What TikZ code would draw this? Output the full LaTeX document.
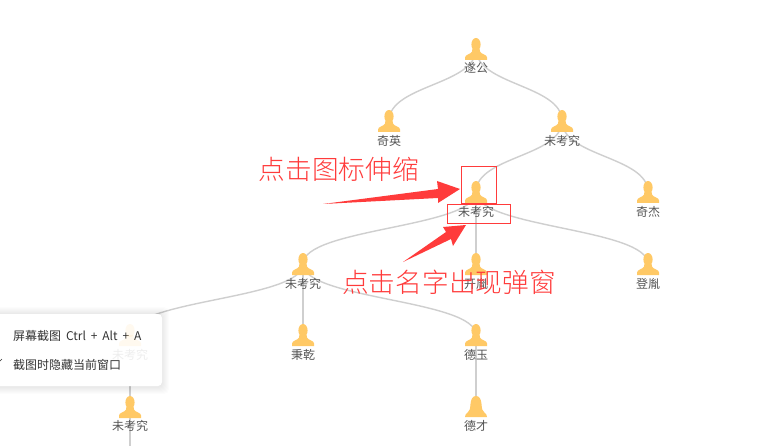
\documentclass[tikz,border=0pt]{standalone}
\usepackage{fontspec}
\usepackage{xcolor}
\usetikzlibrary{calc}
\setmainfont{Noto Sans CJK SC}
\newfontfamily\markfont{Noto Sans CJK SC Light}
\definecolor{iconGold}{HTML}{FFC966}
\definecolor{linkGrey}{HTML}{CFCFCF}
\definecolor{labelGrey}{HTML}{555555}
\definecolor{markRed}{HTML}{FF3B3B}
\definecolor{menuText}{HTML}{333333}
\tikzset{
  linkLine/.style={draw=linkGrey, line width=1.4pt},
  nameLabel/.style={text=labelGrey, font=\fontsize{12}{14}\selectfont, inner sep=0pt, yshift=-0.7pt},
  markBox/.style={draw=markRed, line width=0.8pt},
  markArrow/.style={fill=markRed},
  markText/.style={text=markRed, font=\markfont\fontsize{26.7}{30}\selectfont, inner sep=0pt, anchor=west},
  menuItem/.style={text=menuText, font=\fontsize{12}{14}\selectfont, inner sep=0pt, anchor=west},
  personIcon/.pic={
    \fill (0,-4.5) ellipse (4.6 and 6.5);
    \fill (-11,11) -- (-11,8.5) .. controls (-11,5.5) and (-5.5,5.5) .. (-4,2.5) -- (-3.6,0)
      -- (3.6,0) -- (4,2.5) .. controls (5.5,5.5) and (11,5.5) .. (11,8.5) -- (11,11) -- cycle;
  },
  womanIcon/.pic={
    \fill (0,-11) .. controls (3.5,-11) and (5,-8) .. (5.5,-3)
      .. controls (6,2) and (6,3.5) .. (8,5) .. controls (10,6.5) and (11,8) .. (11,10)
      -- (-11,10) .. controls (-11,8) and (-10,6.5) .. (-8,5)
      .. controls (-6,3.5) and (-6,2) .. (-5.5,-3) .. controls (-5,-8) and (-3.5,-11) .. (0,-11) -- cycle;
  }
}
\newcommand{\treeLink}[2]{
  \coordinate (mid) at ($(#1)!0.5!(#2)$);
  \draw[linkLine] (#1) .. controls (#1 |- mid) and (#2 |- mid) .. (#2);
}

\begin{document}
\begin{tikzpicture}[x=1pt,y=-1pt]
  \useasboundingbox (0,0) rectangle (759,446);
  \fill[white] (0,0) rectangle (759,446);

  \coordinate (root) at (476,49);
  \coordinate (qiying) at (389,121);
  \coordinate (sonA) at (562,121);
  \coordinate (sonB) at (476,192);
  \coordinate (qijie) at (648,192);
  \coordinate (sonC) at (303,264);
  \coordinate (kaiyin) at (476,264);
  \coordinate (dengyin) at (648,264);
  \coordinate (sonD) at (130,335);
  \coordinate (bingqian) at (303,335);
  \coordinate (deyu) at (476,335);
  \coordinate (sonE) at (130,407);
  \coordinate (decai) at (476,407);
  \coordinate (tailEnd) at (130,446);

  % links first, icons sit on top
  \treeLink{root}{qiying}
  \treeLink{root}{sonA}
  \treeLink{sonA}{sonB}
  \treeLink{sonA}{qijie}
  \treeLink{sonB}{sonC}
  \treeLink{sonB}{kaiyin}
  \treeLink{sonB}{dengyin}
  \treeLink{sonC}{sonD}
  \treeLink{sonC}{bingqian}
  \treeLink{sonC}{deyu}
  \treeLink{sonD}{sonE}
  \treeLink{deyu}{decai}
  \draw[linkLine] (sonE) -- (tailEnd);

  \path[fill=iconGold]
    (root) pic {personIcon}
    (qiying) pic {personIcon}
    (sonA) pic {personIcon}
    (sonB) pic {personIcon}
    (qijie) pic {personIcon}
    (sonC) pic {personIcon}
    (kaiyin) pic {personIcon}
    (dengyin) pic {personIcon}
    (bingqian) pic {personIcon}
    (deyu) pic {personIcon}
    (sonE) pic {personIcon}
    (decai) pic {womanIcon};

  \node[nameLabel] (rootName) at (476,67) {遂公};
  \node[nameLabel] (qiyingName) at (389,140) {奇英};
  \node[nameLabel] (sonAName) at (562,140) {未考究};
  \node[nameLabel] (sonBName) at (476,211) {未考究};
  \node[nameLabel] (qijieName) at (648,211) {奇杰};
  \node[nameLabel] (sonCName) at (303,283) {未考究};
  \node[nameLabel] (kaiyinName) at (476,283) {开胤};
  \node[nameLabel] (dengyinName) at (648,283) {登胤};
  \node[nameLabel] (bingqianName) at (303,354) {秉乾};
  \node[nameLabel] (deyuName) at (476,354) {德玉};
  \node[nameLabel] (sonEName) at (130,425) {未考究};
  \node[nameLabel] (decaiName) at (476,425) {德才};

  % annotations
  \draw[markBox] (461,166) rectangle (496,203);
  \draw[markBox] (447,204) rectangle (510,223);
  \fill[markArrow] (323,204) -- (438,189) -- (437,181) -- (460,189) -- (438,203) -- (438,198) -- cycle;
  \fill[markArrow] (403,262) -- (446,232) -- (443,227) -- (466,225) -- (453,246) -- (451,239) -- cycle;
  \node[markText] (tipIcon) at (258.5,169) {点击图标伸缩};
  \node[markText] (tipName) at (342,282) {点击名字出现弹窗};

  % screenshot menu over the tree
  \foreach \s in {1,...,7}
    \fill[black, fill opacity=0.012, rounded corners=5pt]
      (-20-\s,314-\s) rectangle (162+\s,386+1+\s);
  \fill[white, rounded corners=4pt] (-20,314) rectangle (162,386);
  \node[menuItem] (menuA) at (13,336) {\spaceskip=4.9pt 屏幕截图 Ctrl + Alt + A};
  \node[menuItem] (menuB) at (13,365) {截图时隐藏当前窗口};
  \draw[menuText, line width=0.5pt] (-1,362) -- (2,359);

  % what shows through the menu
  \begin{scope}[opacity=0.1]
    \path[fill=iconGold] (sonD) pic {personIcon};
    \node[nameLabel] (sonDName) at (130,354) {未考究};
  \end{scope}
\end{tikzpicture}
\end{document}
